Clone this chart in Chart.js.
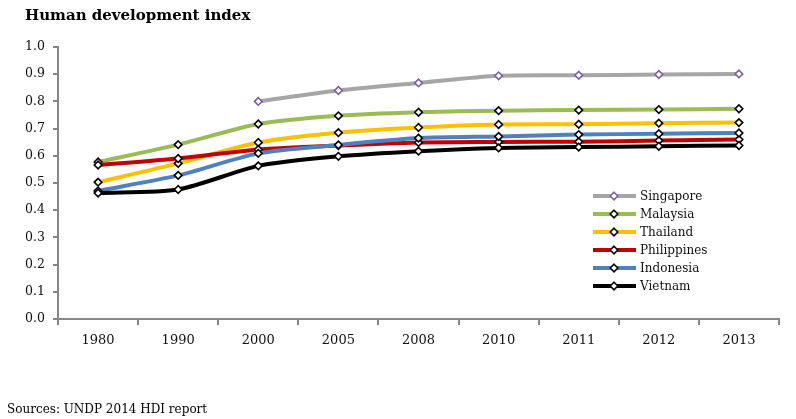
<!DOCTYPE html>
<html>
<head>
<meta charset="utf-8">
<script src="https://cdn.jsdelivr.net/npm/chart.js@4"></script>
<style>
  html, body { margin: 0; padding: 0; background: #fff; }
  #wrap { position: relative; width: 796px; height: 419px; overflow: hidden; }
  #chart { position: absolute; left: 0; top: 0; }
  #title { position: absolute; left: 25px; top: 4px; font: bold 15px "DejaVu Serif", serif; color: #000; line-height: 22px; white-space: nowrap; }
  #source { position: absolute; left: 7px; top: 401px; font: 12px "DejaVu Serif", serif; color: #000; line-height: 16px; white-space: nowrap; }
</style>
</head>
<body>
<div id="wrap">
  <canvas id="chart" width="796" height="419"></canvas>
  <div id="title">Human development index</div>
  <div id="source">Sources: UNDP 2014 HDI report</div>
</div>
<script>
// ---- Data ----
const categories = ['1980', '1990', '2000', '2005', '2008', '2010', '2011', '2012', '2013'];
const yTickLabels = ['0.0', '0.1', '0.2', '0.3', '0.4', '0.5', '0.6', '0.7', '0.8', '0.9', '1.0'];
const seriesNames = ['Singapore', 'Malaysia', 'Thailand', 'Philippines', 'Indonesia', 'Vietnam'];
const singapore   = [null, null, 0.800, 0.840, 0.868, 0.894, 0.896, 0.899, 0.901];
const malaysia    = [0.577, 0.641, 0.717, 0.747, 0.760, 0.766, 0.768, 0.770, 0.773];
const thailand    = [0.503, 0.572, 0.649, 0.685, 0.704, 0.715, 0.716, 0.720, 0.722];
const philippines = [0.566, 0.590, 0.623, 0.638, 0.649, 0.651, 0.652, 0.656, 0.660];
const indonesia   = [0.471, 0.528, 0.609, 0.640, 0.665, 0.671, 0.678, 0.681, 0.684];
const vietnam     = [0.463, 0.476, 0.563, 0.598, 0.617, 0.629, 0.632, 0.635, 0.638];

// ---- Styles ----
const lineColors   = ['#A6A6A6', '#9BBB59', '#FFC000', '#C00000', '#4F81BD', '#000000'];
const markerBorder = ['#7F60A0', '#000000', '#000000', '#000000', '#000000', '#000000'];
const seriesValues = [singapore, malaysia, thailand, philippines, indonesia, vietnam];

const FONT = '"DejaVu Serif", serif';
const AXIS = '#878787';

const datasets = seriesNames.map((name, i) => ({
  label: name,
  data: seriesValues[i],
  borderColor: lineColors[i],
  backgroundColor: '#ffffff',
  borderWidth: 4,
  pointStyle: 'rectRot',
  pointRadius: 3.8,
  pointBorderWidth: 1.6,
  pointBackgroundColor: '#ffffff',
  pointBorderColor: markerBorder[i],
  tension: 0.25,
  spanGaps: false,
  order: seriesNames.length - i
}));

const legendPlugin = {
  id: 'customLegend',
  afterDraw(chart) {
    const ctx = chart.ctx;
    const x0 = 593, x1 = 636, mx = 614, tx = 640, y0 = 196, dy = 18;
    ctx.save();
    chart.data.datasets.forEach((ds, i) => {
      const y = y0 + i * dy;
      ctx.strokeStyle = ds.borderColor;
      ctx.lineWidth = 4;
      ctx.beginPath(); ctx.moveTo(x0, y); ctx.lineTo(x1, y); ctx.stroke();
      ctx.fillStyle = '#fff';
      ctx.strokeStyle = ds.pointBorderColor;
      ctx.lineWidth = 1.6;
      const r = 3.8;
      ctx.beginPath();
      ctx.moveTo(mx, y - r); ctx.lineTo(mx + r, y); ctx.lineTo(mx, y + r); ctx.lineTo(mx - r, y); ctx.closePath();
      ctx.fill(); ctx.stroke();
      ctx.fillStyle = '#111';
      ctx.font = '12px ' + FONT;
      ctx.textBaseline = 'middle';
      ctx.textAlign = 'left';
      ctx.fillText(ds.label, tx, y + 1);
    });
    ctx.restore();
  }
};

new Chart(document.getElementById('chart'), {
  type: 'line',
  data: { labels: categories, datasets },
  plugins: [legendPlugin],
  options: {
    responsive: false,
    animation: false,
    events: [],
    layout: { padding: { left: 0, top: 47, right: 17, bottom: 0 } },
    plugins: { legend: { display: false }, tooltip: { enabled: false }, title: { display: false } },
    scales: {
      x: {
        type: 'category',
        offset: true,
        grid: { display: true, drawOnChartArea: false, offset: true, tickLength: 6, color: AXIS, lineWidth: 2 },
        border: { display: true, color: AXIS, width: 2 },
        ticks: { color: '#111', font: { family: FONT, size: 13 }, padding: 8, maxRotation: 0, autoSkip: false },
        afterFit(s) { s.height = 100; }
      },
      y: {
        min: 0, max: 1,
        grid: { display: true, drawOnChartArea: false, tickLength: 5, color: AXIS, lineWidth: 2 },
        border: { display: true, color: AXIS, width: 2 },
        ticks: {
          stepSize: 0.1,
          color: '#111',
          font: { family: FONT, size: 12.5 },
          padding: 8,
          callback: (v, idx) => yTickLabels[idx]
        },
        afterFit(s) { s.width = 58; }
      }
    }
  }
});
</script>
</body>
</html>
